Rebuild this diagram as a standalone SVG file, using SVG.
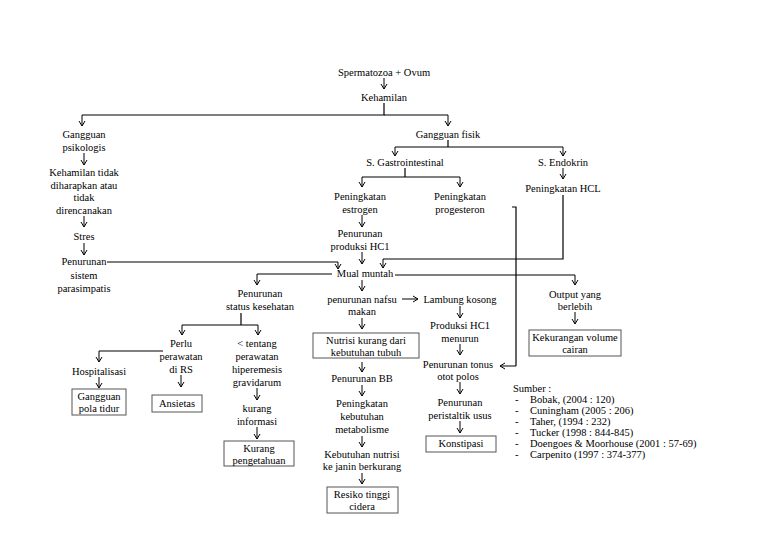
<svg xmlns="http://www.w3.org/2000/svg" width="768" height="543" viewBox="0 0 768 543" font-family="'Liberation Serif', 'DejaVu Serif', serif">
<defs>
<marker id="ah" markerWidth="8" markerHeight="8" refX="6" refY="4" orient="auto" markerUnits="userSpaceOnUse"><path d="M1,1 L6,4 L1,7" fill="none" stroke="#000" stroke-width="1"/></marker>
</defs>
<style>
text{font-family:'Liberation Serif','DejaVu Serif',serif;font-size:10.5px;fill:#000;text-anchor:middle}
.l{text-anchor:start}
line,polyline{stroke:#000;stroke-width:1.2;fill:none}
.a{marker-end:url(#ah);stroke-width:1}
rect{fill:#fff;stroke:#555;stroke-width:1}
</style>
<rect x="0" y="0" width="768" height="543" style="stroke:none"/>
<g id="connectors">
<line class="a" x1="384" y1="78" x2="384" y2="89"/>
<polyline points="384,103 384,115 82,115"/>
<line x1="384" y1="115" x2="448" y2="115"/>
<line class="a" x1="82" y1="115" x2="82" y2="126"/>
<line class="a" x1="448" y1="115" x2="448" y2="126"/>
<line class="a" x1="84" y1="153" x2="84" y2="165"/>
<line class="a" x1="84" y1="216" x2="84" y2="227"/>
<line class="a" x1="84" y1="243" x2="84" y2="255"/>
<polyline points="448,140 448,147"/>
<line x1="395" y1="147" x2="563" y2="147"/>
<line class="a" x1="395" y1="147" x2="395" y2="156"/>
<line class="a" x1="563" y1="147" x2="563" y2="156"/>
<line x1="405" y1="168" x2="405" y2="177"/>
<line x1="362" y1="177" x2="460" y2="177"/>
<line class="a" x1="362" y1="177" x2="362" y2="187"/>
<line class="a" x1="460" y1="177" x2="460" y2="187"/>
<line class="a" x1="563" y1="168" x2="563" y2="179"/>
<line class="a" x1="362" y1="215" x2="362" y2="227"/>
<line class="a" x1="362" y1="252" x2="362" y2="264"/>
<polyline points="563,195 563,259 383,259"/>
<line class="a" x1="383" y1="259" x2="383" y2="268"/>
<polyline points="512,207 516,207 516,366"/>
<line class="a" x1="516" y1="366" x2="500" y2="366"/>
<line x1="107" y1="262" x2="338" y2="262"/>
<line class="a" x1="338" y1="262" x2="338" y2="269"/>
<line x1="332" y1="274" x2="257" y2="274"/>
<line class="a" x1="257" y1="274" x2="257" y2="285"/>
<line x1="395" y1="275" x2="575" y2="275"/>
<line class="a" x1="575" y1="275" x2="575" y2="285"/>
<line class="a" x1="362" y1="280" x2="362" y2="291"/>
<line class="a" x1="362" y1="318" x2="362" y2="329"/>
<line class="a" x1="362" y1="362" x2="362" y2="372"/>
<line class="a" x1="362" y1="385" x2="362" y2="396"/>
<line class="a" x1="362" y1="436" x2="362" y2="447"/>
<line class="a" x1="362" y1="473" x2="362" y2="484"/>
<line class="a" x1="402" y1="299" x2="418" y2="299"/>
<line class="a" x1="460" y1="306" x2="460" y2="318"/>
<line class="a" x1="460" y1="344" x2="460" y2="355"/>
<line class="a" x1="460" y1="382" x2="460" y2="394"/>
<line class="a" x1="460" y1="421" x2="460" y2="433"/>
<line class="a" x1="575" y1="312" x2="575" y2="324"/>
<line x1="241" y1="313" x2="241" y2="325"/>
<line x1="182" y1="325" x2="258" y2="325"/>
<line class="a" x1="182" y1="325" x2="182" y2="335"/>
<line class="a" x1="258" y1="325" x2="258" y2="335"/>
<polyline points="163,351 99,351"/>
<line class="a" x1="99" y1="351" x2="99" y2="362"/>
<line class="a" x1="99" y1="377" x2="99" y2="388"/>
<line class="a" x1="181" y1="375" x2="181" y2="387"/>
<line class="a" x1="257" y1="388" x2="257" y2="400"/>
<line class="a" x1="257" y1="427" x2="257" y2="439"/>
</g>
<g id="n-top"><text x="384" y="76">Spermatozoa + Ovum</text><text x="384" y="101">Kehamilan</text></g>
<g id="n-psiko"><text x="84" y="138">Gangguan</text><text x="84" y="151">psikologis</text></g>
<g id="n-tidak"><text x="84" y="176">Kehamilan tidak</text><text x="84" y="189">diharapkan atau</text><text x="84" y="201">tidak</text><text x="84" y="214">direncanakan</text></g>
<g id="n-stres"><text x="84" y="240">Stres</text></g>
<g id="n-para"><text x="84" y="265">Penurunan</text><text x="84" y="279">sistem</text><text x="84" y="292">parasimpatis</text></g>
<g id="n-fisik"><text x="448" y="138">Gangguan fisik</text></g>
<g id="n-gastro"><text x="405" y="166">S. Gastrointestinal</text></g>
<g id="n-endo"><text x="563" y="166">S. Endokrin</text></g>
<g id="n-hcl"><text x="563" y="192">Peningkatan HCL</text></g>
<g id="n-estro"><text x="360" y="200">Peningkatan</text><text x="360" y="213">estrogen</text></g>
<g id="n-proge"><text x="460" y="200">Peningkatan</text><text x="460" y="213">progesteron</text></g>
<g id="n-hc1"><text x="360" y="237">Penurunan</text><text x="360" y="250">produksi HC1</text></g>
<g id="n-mual"><text x="365" y="277">Mual muntah</text></g>
<g id="n-status"><text x="260" y="297">Penurunan</text><text x="260" y="310">status kesehatan</text></g>
<g id="n-perlu"><text x="181" y="347">Perlu</text><text x="181" y="360">perawatan</text><text x="181" y="373">di RS</text></g>
<g id="n-ansietas"><rect x="152" y="395" width="50" height="17"/><text x="177" y="407">Ansietas</text></g>
<g id="n-hosp"><text x="99" y="375">Hospitalisasi</text></g>
<g id="n-tidur"><rect x="72" y="389" width="54" height="26"/><text x="99" y="400">Gangguan</text><text x="99" y="412">pola tidur</text></g>
<g id="n-tentang"><text x="257" y="347">&lt; tentang</text><text x="257" y="360">perawatan</text><text x="257" y="373">hiperemesis</text><text x="257" y="386">gravidarum</text></g>
<g id="n-info"><text x="257" y="412">kurang</text><text x="257" y="425">informasi</text></g>
<g id="n-tahu"><rect x="224" y="441" width="70" height="25"/><text x="259" y="452">Kurang</text><text x="259" y="464">pengetahuan</text></g>
<g id="n-nafsu"><text x="362" y="303">penurunan nafsu</text><text x="362" y="315">makan</text></g>
<g id="n-nutrisi"><rect x="313" y="333" width="106" height="25"/><text x="366" y="344">Nutrisi kurang dari</text><text x="366" y="356">kebutuhan tubuh</text></g>
<g id="n-bb"><text x="362" y="382">Penurunan BB</text></g>
<g id="n-meta"><text x="362" y="407">Peningkatan</text><text x="362" y="420">kebutuhan</text><text x="362" y="433">metabolisme</text></g>
<g id="n-janin"><text x="362" y="458">Kebutuhan nutrisi</text><text x="362" y="470">ke janin berkurang</text></g>
<g id="n-cidera"><rect x="327" y="487" width="71" height="26"/><text x="362" y="498">Resiko tinggi</text><text x="362" y="510">cidera</text></g>
<g id="n-lambung"><text x="460" y="303">Lambung kosong</text></g>
<g id="n-prod"><text x="460" y="329">Produksi HC1</text><text x="460" y="342">menurun</text></g>
<g id="n-tonus"><text x="458" y="368">Penurunan tonus</text><text x="458" y="380">otot polos</text></g>
<g id="n-peris"><text x="460" y="406">Penurunan</text><text x="460" y="419">peristaltik usus</text></g>
<g id="n-konst"><rect x="426" y="436" width="70" height="16"/><text x="461" y="447">Konstipasi</text></g>
<g id="n-output"><text x="575" y="298">Output yang</text><text x="575" y="310">berlebih</text></g>
<g id="n-vol"><rect x="529" y="330" width="92" height="26"/><text x="575" y="341">Kekurangan volume</text><text x="575" y="353">cairan</text></g>
<g id="sumber">
<text class="l" x="513" y="392">Sumber :</text>
<text class="l" x="515" y="403">-</text><text class="l" x="530" y="403">Bobak, (2004 : 120)</text>
<text class="l" x="515" y="414">-</text><text class="l" x="530" y="414">Cuningham (2005 : 206)</text>
<text class="l" x="515" y="425">-</text><text class="l" x="530" y="425">Taher, (1994 : 232)</text>
<text class="l" x="515" y="436">-</text><text class="l" x="530" y="436">Tucker (1998 : 844-845)</text>
<text class="l" x="515" y="447">-</text><text class="l" x="530" y="447">Doengoes &amp; Moorhouse (2001 : 57-69)</text>
<text class="l" x="515" y="458">-</text><text class="l" x="530" y="458">Carpenito (1997 : 374-377)</text>
</g>
</svg>
